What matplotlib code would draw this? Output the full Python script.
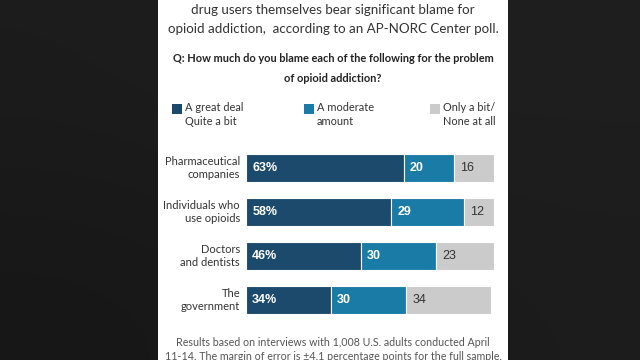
import matplotlib
matplotlib.use("Agg")
import matplotlib.pyplot as plt
import numpy as np
from matplotlib.patches import Rectangle

# data
categories = ["Pharmaceutical\ncompanies", "Individuals who\nuse opioids",
              "Doctors\nand dentists", "The\ngovernment"]
great_deal = [63, 58, 46, 34]
moderate = [20, 29, 30, 30]
only_bit = [16, 12, 23, 34]
legend_labels = ["A great deal\nQuite a bit", "A moderate\namount", "Only a bit/\nNone at all"]
colors = ["#1b4a6c", "#1a7ba6", "#cbcbcb"]

W, H = 640, 360
fig = plt.figure(figsize=(6.4, 3.6), dpi=100)
fig.patch.set_facecolor("#1a1a1e")

# dark background with a soft gradient
bg = fig.add_axes([0, 0, 1, 1])
grad = np.array([[0.09, 0.10, 0.11], [0.11, 0.12, 0.12]])
bg.imshow(grad, cmap="gray", vmin=0, vmax=1, extent=(0, W, 0, H), aspect="auto",
          interpolation="bicubic")
bg.add_patch(Rectangle((158, 0), 350, H, facecolor="white", edgecolor="none"))
bg.set_xlim(0, W)
bg.set_ylim(H, 0)
bg.axis("off")

font = "Lato"
dark = "#333333"
cx = 333

bg.text(cx, 10, "drug users themselves bear significant blame for", ha="center",
        va="center", fontsize=9.6, color=dark, family=font)
bg.text(cx, 29, "opioid addiction,  according to an AP-NORC Center poll.", ha="center",
        va="center", fontsize=9.6, color=dark, family=font)
bg.text(cx, 59, "Q: How much do you blame each of the following for the problem",
        ha="center", va="center", fontsize=7.9, color="#222222", fontweight="bold",
        family=font)
bg.text(cx, 79, "of opioid addiction?", ha="center", va="center", fontsize=7.9,
        color="#222222", fontweight="bold", family=font)

# legend
leg_x = [172, 304, 430]
for lx, lab, c in zip(leg_x, legend_labels, colors):
    bg.add_patch(Rectangle((lx, 104), 10, 10, facecolor=c, edgecolor="none"))
    bg.text(lx + 13, 102, lab, ha="left", va="top", fontsize=7.9, color=dark,
            linespacing=1.35, family=font)

bg.text(cx, 343, "Results based on interviews with 1,008 U.S. adults conducted April",
        ha="center", va="center", fontsize=7.7, color="#555555", family=font)
bg.text(cx, 356, "11-14. The margin of error is \u00b14.1 percentage points for the full sample.",
        ha="center", va="center", fontsize=7.7, color="#555555", family=font)

# bars
ax = fig.add_axes([246 / W, 38 / H, 250 / W, 176 / H])
y = np.arange(len(categories))
left = np.zeros(len(categories))
for vals, c in zip([great_deal, moderate, only_bit], colors):
    ax.barh(y, vals, left=left, height=0.64, color=c, edgecolor="white", linewidth=0.8)
    left += np.array(vals)
ax.set_xlim(0, 100)
ax.set_ylim(3.5, -0.5)
ax.axis("off")

for i in range(len(categories)):
    ax.text(2.5, i, f"{great_deal[i]}%", ha="left", va="center", color="white",
            fontsize=9, fontweight="bold", family="Liberation Sans")
    ax.text(great_deal[i] + 2.5, i, f"{moderate[i]}", ha="left", va="center",
            color="white", fontsize=9, fontweight="bold", family="Liberation Sans")
    ax.text(great_deal[i] + moderate[i] + 2.5, i, f"{only_bit[i]}", ha="left",
            va="center", color=dark, fontsize=9, family="Liberation Sans")
    ax.text(-2.4, i, categories[i], ha="right", va="center", color=dark,
            fontsize=8, linespacing=1.2, family=font)

fig.savefig("out.png", dpi=100, facecolor=fig.get_facecolor())
